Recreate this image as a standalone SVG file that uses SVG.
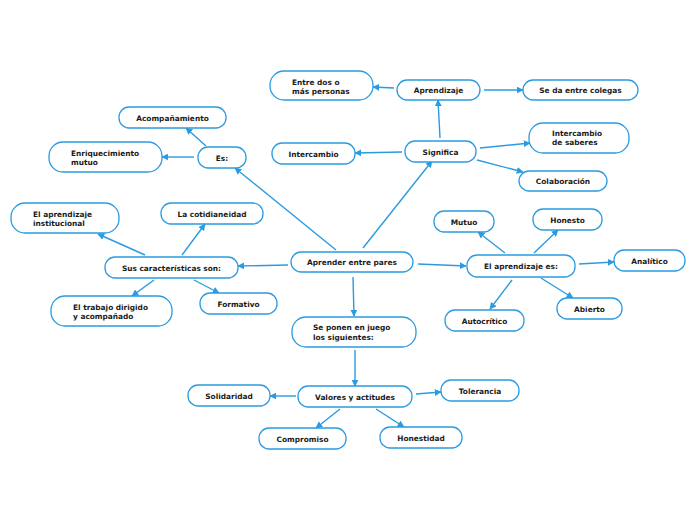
<svg xmlns="http://www.w3.org/2000/svg" width="696" height="520" viewBox="0 0 696 520">
<defs>
<marker id="ah" viewBox="0 0 10 10" refX="9" refY="5" markerWidth="7" markerHeight="7" markerUnits="userSpaceOnUse" orient="auto">
<path d="M0,0 L10,5 L0,10 z" fill="#2a9be0"/>
</marker>
<style>
.n rect{fill:#fff;stroke:#2a9be0;stroke-width:1.3}
.n text{font-family:"DejaVu Sans",Verdana,sans-serif;font-weight:bold;font-size:7.4px;fill:#1a1a1a}
.c{text-anchor:middle}
#edges line{stroke:#2a9be0;stroke-width:1.4;marker-end:url(#ah)}
</style>
</defs>
<rect width="696" height="520" fill="#fff"/>
<g id="edges">
<line x1="336" y1="250" x2="235" y2="168"/>
<line x1="363" y1="248" x2="432" y2="161"/>
<line x1="288" y1="265" x2="238" y2="266"/>
<line x1="418" y1="264" x2="466" y2="266"/>
<line x1="353" y1="277" x2="354" y2="316"/>
<line x1="355" y1="350" x2="355" y2="386"/>
<line x1="440" y1="138" x2="438" y2="100"/>
<line x1="402" y1="152" x2="355" y2="153"/>
<line x1="480" y1="148" x2="530" y2="143"/>
<line x1="477" y1="160" x2="523" y2="172"/>
<line x1="394" y1="88" x2="373" y2="87"/>
<line x1="484" y1="90" x2="523" y2="90"/>
<line x1="206" y1="146" x2="186" y2="128"/>
<line x1="194" y1="157" x2="162" y2="157"/>
<line x1="145" y1="255" x2="98" y2="234"/>
<line x1="182" y1="255" x2="205" y2="224"/>
<line x1="154" y1="280" x2="132" y2="296"/>
<line x1="194" y1="280" x2="219" y2="293"/>
<line x1="505" y1="253" x2="478" y2="232"/>
<line x1="534" y1="253" x2="558" y2="230"/>
<line x1="579" y1="264" x2="614" y2="262"/>
<line x1="541" y1="278" x2="573" y2="298"/>
<line x1="512" y1="280" x2="490" y2="309"/>
<line x1="296" y1="396" x2="270" y2="396"/>
<line x1="416" y1="394" x2="441" y2="392"/>
<line x1="340" y1="409" x2="316" y2="428"/>
<line x1="376" y1="409" x2="404" y2="427"/>
</g>
<g id="n-aprender" class="n"><rect x="291" y="252" width="122" height="20" rx="10"/><text class="c" x="352" y="265">Aprender entre pares</text></g>
<g id="n-significa" class="n"><rect x="405" y="141" width="71" height="21" rx="10"/><text class="c" x="440.5" y="154.5">Significa</text></g>
<g id="n-aprendizaje" class="n"><rect x="397" y="80" width="83" height="20" rx="10"/><text class="c" x="438.5" y="93">Aprendizaje</text></g>
<g id="n-entredos" class="n"><rect x="270" y="71" width="103" height="29" rx="14"/><text x="292" y="84.5">Entre dos o</text><text x="292" y="93.5">más personas</text></g>
<g id="n-seda" class="n"><rect x="523" y="80" width="115" height="20" rx="10"/><text class="c" x="580.5" y="93">Se da entre colegas</text></g>
<g id="n-intercambio" class="n"><rect x="272" y="143" width="83" height="21" rx="10"/><text class="c" x="313.5" y="156.5">Intercambio</text></g>
<g id="n-intsaberes" class="n"><rect x="529" y="123" width="100" height="30" rx="14"/><text x="552" y="135.5">Intercambio</text><text x="552" y="144.5">de saberes</text></g>
<g id="n-colaboracion" class="n"><rect x="519" y="171" width="88" height="20" rx="10"/><text class="c" x="563" y="184">Colaboración</text></g>
<g id="n-es" class="n"><rect x="198" y="147" width="48" height="21" rx="10"/><text class="c" x="222" y="160.5">Es:</text></g>
<g id="n-acomp" class="n"><rect x="119" y="107" width="107" height="21" rx="10"/><text class="c" x="172.5" y="120.5">Acompañamiento</text></g>
<g id="n-enriq" class="n"><rect x="49" y="142" width="113" height="30" rx="14"/><text x="71" y="155.5">Enriquecimiento</text><text x="71" y="164.5">mutuo</text></g>
<g id="n-sus" class="n"><rect x="105" y="257" width="133" height="21" rx="10"/><text class="c" x="171.5" y="270.5">Sus características son:</text></g>
<g id="n-institucional" class="n"><rect x="11" y="203" width="108" height="30" rx="14"/><text x="33" y="216.5">El aprendizaje</text><text x="33" y="225.5">institucional</text></g>
<g id="n-cotidianeidad" class="n"><rect x="161" y="203" width="102" height="21" rx="10"/><text class="c" x="212" y="216.5">La cotidianeidad</text></g>
<g id="n-trabajo" class="n"><rect x="51" y="296" width="121" height="30" rx="14"/><text x="73" y="309.5">El trabajo dirigido</text><text x="73" y="318.5">y acompañado</text></g>
<g id="n-formativo" class="n"><rect x="200" y="293" width="77" height="21" rx="10"/><text class="c" x="238.5" y="306.5">Formativo</text></g>
<g id="n-aprendizajees" class="n"><rect x="467" y="255" width="108" height="22" rx="10"/><text class="c" x="521" y="269">El aprendizaje es:</text></g>
<g id="n-mutuo" class="n"><rect x="434" y="211" width="60" height="21" rx="10"/><text class="c" x="464" y="224.5">Mutuo</text></g>
<g id="n-honesto" class="n"><rect x="533" y="209" width="69" height="21" rx="10"/><text class="c" x="567.5" y="222.5">Honesto</text></g>
<g id="n-analitico" class="n"><rect x="614" y="250" width="71" height="21" rx="10"/><text class="c" x="649.5" y="263.5">Analítico</text></g>
<g id="n-abierto" class="n"><rect x="557" y="298" width="65" height="21" rx="10"/><text class="c" x="589.5" y="311.5">Abierto</text></g>
<g id="n-autocritico" class="n"><rect x="445" y="310" width="79" height="21" rx="10"/><text class="c" x="484.5" y="323.5">Autocrítico</text></g>
<g id="n-seponen" class="n"><rect x="292" y="317" width="124" height="30" rx="14"/><text x="313" y="330">Se ponen en juego</text><text x="313" y="339.5">los siguientes:</text></g>
<g id="n-valores" class="n"><rect x="298" y="386" width="114" height="21" rx="10"/><text class="c" x="355" y="399.5">Valores y actitudes</text></g>
<g id="n-solidaridad" class="n"><rect x="188" y="385" width="82" height="21" rx="10"/><text class="c" x="229" y="398.5">Solidaridad</text></g>
<g id="n-tolerancia" class="n"><rect x="441" y="380" width="78" height="21" rx="10"/><text class="c" x="480" y="393.5">Tolerancia</text></g>
<g id="n-compromiso" class="n"><rect x="259" y="428" width="87" height="21" rx="10"/><text class="c" x="302.5" y="441.5">Compromiso</text></g>
<g id="n-honestidad" class="n"><rect x="380" y="427" width="82" height="21" rx="10"/><text class="c" x="421" y="440.5">Honestidad</text></g>
</svg>
